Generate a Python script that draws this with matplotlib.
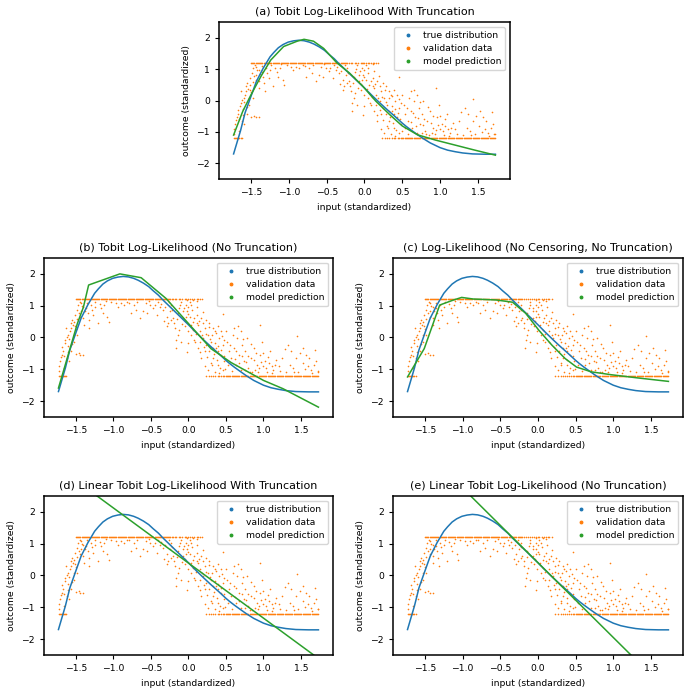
import numpy as np
import matplotlib
matplotlib.use("Agg")
import matplotlib.pyplot as plt
from matplotlib.lines import Line2D

# true distribution
true_x = [-1.732, -1.64, -1.58, -1.51, -1.43, -1.34, -1.25, -1.20, -1.14, -1.08, -1.01, -0.94,
          -0.87, -0.80, -0.73, -0.67, -0.60, -0.53, -0.47, -0.40, -0.34, -0.27, -0.20, -0.10,
          0.0, 0.10, 0.20, 0.30, 0.40, 0.50, 0.55, 0.61, 0.68, 0.77, 0.87, 1.0, 1.10, 1.20,
          1.30, 1.43, 1.60, 1.732]
true_y = [-1.70, -0.96, -0.39, 0.08, 0.61, 1.03, 1.39, 1.53, 1.68, 1.78, 1.86, 1.90,
          1.92, 1.905, 1.86, 1.80, 1.71, 1.60, 1.47, 1.33, 1.18, 1.02, 0.86, 0.63,
          0.40, 0.16, -0.07, -0.29, -0.50, -0.72, -0.82, -0.93, -1.05, -1.20, -1.35, -1.50, -1.58, -1.63,
          -1.67, -1.70, -1.71, -1.71]

# validation data, uncensored points
val_x = [-1.71, -1.69, -1.72, -1.67, -1.63, -1.64, -1.61, -1.60, -1.58, -1.57, -1.55, -1.53,
         -1.56, -1.59, -1.62, -1.51, -1.49, -1.47, -1.45, -1.43, -1.40, -1.39, -1.36, -1.34,
         -1.32, -1.46, -1.44, -1.40, -1.51, -1.53, -1.48, -1.30, -1.27, -1.25, -1.24, -1.43,
         -1.40, -1.66,
         -1.70, -1.68, -1.65, -1.62, -1.59, -1.57, -1.54, -1.52, -1.50, -1.48, -1.46, -1.44,
         -1.42, -1.38, -1.35, -1.33, -1.29, -1.72, -1.66, -1.61, -1.55, -1.50,
         -1.16, -1.14, -1.12, -1.08, -1.06, -1.03, -0.97, -0.90, -0.86, -0.77, -0.73, -0.64,
         -0.60, -0.55, -0.51, -0.45, -0.40, -1.21, -0.68, -0.82, -1.10, -0.53,
         -1.18, -0.94, -0.79, -0.70, -0.57, -0.47, -0.42, -0.36, -0.32, -0.31,
         -0.29, -0.27, -0.25, -0.23, -0.21, -0.18, -0.16, -0.14, -0.12, -0.10, -0.07, -0.05,
         -0.03, -0.01, -0.17, -0.10, -0.29, -0.23, -0.14, -0.07, -0.03, -0.34, -0.38, -0.01,
         -0.26, -0.22, -0.19, -0.15, -0.13, -0.11, -0.09, -0.06, -0.04, -0.02, 0.0,
         -0.02, 0.02, 0.065, 0.11, 0.0, 0.04,
         -0.02, 0.02, 0.065, 0.11, 0.13, 0.15, 0.17, 0.20, 0.22, 0.24, 0.26, 0.28, 0.30, 0.33,
         0.35, 0.37, 0.39, 0.41, 0.43, 0.46, 0.48, 0.04, 0.09, 0.13, 0.17, 0.22, 0.26, 0.11,
         0.20, 0.24, 0.28, 0.33, 0.37, 0.39, 0.43, 0.50, 0.48, 0.22, 0.15, 0.30, 0.35, 0.41,
         0.46, 0.39, 0.33, 0.065,
         0.03, 0.05, 0.07, 0.08, 0.10, 0.12, 0.14, 0.16, 0.18, 0.19, 0.21, 0.23, 0.25, 0.27,
         0.29, 0.31, 0.32, 0.34, 0.36, 0.38, 0.40, 0.42, 0.44, 0.45, 0.47, 0.49, 0.46,
         0.52, 0.54, 0.57, 0.59, 0.61, 0.63, 0.65, 0.67, 0.70, 0.72, 0.74, 0.76, 0.78, 0.80,
         0.83, 0.87, 0.91, 0.93, 0.96, 0.98, 0.61, 0.70, 1.0, 0.89, 0.76, 1.02,
         0.53, 0.56, 0.58, 0.62, 0.64, 0.66, 0.68, 0.71, 0.73, 0.77, 0.79, 0.82, 0.84, 0.88,
         0.90, 0.94, 0.97,
         1.04, 1.07, 1.11, 1.13, 1.15, 1.09, 1.35, 1.37, 1.39, 1.43, 1.46, 1.52, 1.57, 1.59,
         1.63, 1.67, 1.70, 1.72, 0.95, 1.33, 1.53, 1.25, 1.20, 1.05, 0.85, 1.0, 1.55, 1.30,
         1.06, 1.12, 1.17, 1.22, 1.28, 1.41, 1.48, 1.61, 1.65, 1.69, 1.73, 1.44]
val_y = [-0.75, -0.54, -0.91, -0.44, 0.29, -0.07, -0.28, 0.08, 0.19, 0.45, 0.55, -0.13,
         -0.44, -0.75, -0.65, 0.71, 0.87, 1.03, 1.13, 0.82, 0.61, 0.40, 0.92, 0.76,
         0.29, -0.49, -0.54, -0.54, 0.35, 0.08, 0.08, 1.03, 0.71, 0.97, 1.13, 1.08,
         0.97, -0.96,
         -0.62, -0.30, -0.18, 0.02, -0.05, 0.31, 0.38, 0.50, 0.27, 0.58, 0.77, 0.66,
         0.98, 0.83, 1.10, 0.55, 0.88, -1.05, -0.58, -0.47, -0.22, -0.52,
         0.92, 0.76, 1.03, 0.66, 0.50, 1.13, 1.08, 1.08, 1.03, 0.76, 1.03, 0.61,
         0.82, 0.76, 1.03, 1.03, 1.13, 0.45, 1.13, 1.13, 1.15, 1.15,
         1.05, 0.96, 1.10, 0.87, 1.08, 0.93, 0.72, 1.06, 0.52, 0.95,
         0.66, 0.45, 0.82, 1.03, 0.61, 0.29, -0.07, 0.76, 0.92, 1.13, 0.61, 0.35,
         1.03, -0.18, -0.34, -0.13, 0.35, 0.55, 0.08, 0.82, 0.66, 0.87, 0.97, 0.19,
         1.12, 0.88, 0.47, 0.57, 0.23, 1.01, 0.41, 0.93, 0.52, -0.47, 0.74,
         1.18, 1.13, 1.18, 1.15, 0.97, 1.03,
         0.82, 0.66, 0.50, 0.71, 0.40, 0.19, 0.61, -0.02, 0.29, -0.23, 0.08, -0.44, -0.13, -0.65,
         0.19, -0.34, -0.86, -0.02, -0.54, -0.23, -0.75, 0.08, -0.13, -0.34, -0.65, -0.91, -1.02, 0.45,
         0.45, 0.55, 0.45, 0.29, 0.14, 0.35, 0.19, 0.19, -0.07, -0.44, -0.13, -0.81, -1.07, -1.12,
         -1.02, -0.44, -0.34, 0.24,
         0.38, 0.88, -0.08, 0.62, 0.12, 0.95, 0.52, -0.45, 0.08, 0.79, -0.31, 0.12, -0.62, 0.33,
         -0.05, -0.88, 0.07, -0.52, -0.18, -0.70, -0.27, -0.95, -0.40, 0.05, -0.58, -0.98, 0.74,
         -0.13, -0.44, -0.65, 0.08, -0.34, -0.86, -0.02, -0.54, -1.02, -0.23, -0.75, -0.44, -0.02, -0.96,
         -0.65, -0.34, -0.86, -1.07, -0.54, -0.13, 0.29, 0.19, -0.91, -1.02, -1.02, -0.75,
         -0.87, -0.25, -1.05, -0.68, -0.41, 0.35, -0.80, -0.57, -0.05, -0.78, -0.58, -1.08, -0.22, -0.70,
         -0.48, -0.95, -0.78,
         -0.96, -0.81, -0.91, -1.02, -0.86, -0.44, -0.86, -0.44, -0.96, -0.65, -1.07, -0.81, -0.54, -0.91,
         -1.02, -0.86, -0.75, -1.07, 0.40, -0.23, -0.33, -0.65, -0.90, -1.10, -1.10, -0.50, -1.0, -1.10,
         -0.60, -1.12, -0.72, -1.05, -0.35, -1.10, -0.48, -0.65, -1.12, -0.38, -1.05, 0.05]

# validation data, censored at the upper / lower limit
upper_cens = 1.2
lower_cens = -1.2
upper_x = [-1.500, -1.486, -1.471, -1.457, -1.440, -1.425, -1.411, -1.396, -1.380, -1.366,
           -1.350, -1.335, -1.321, -1.305, -1.290, -1.276, -1.260, -1.245, -1.231, -1.215,
           -1.200, -1.186, -1.170, -1.155, -1.141, -1.125, -1.110, -1.096, -1.080, -1.065,
           -1.051, -1.035, -1.020, -1.006, -0.990, -0.975, -0.961, -0.945, -0.930, -0.916,
           -0.900, -0.885, -0.871, -0.855, -0.840, -0.826, -0.810, -0.795, -0.781, -0.765,
           -0.750, -0.736, -0.720, -0.705, -0.691, -0.675, -0.660, -0.646, -0.630, -0.615,
           -0.601, -0.585, -0.570, -0.556, -0.540, -0.525, -0.511, -0.495, -0.480, -0.466,
           -0.450, -0.435, -0.421, -0.405, -0.390, -0.376, -0.360, -0.345, -0.331, -0.315,
           -0.300, -0.286, -0.270, -0.255, -0.241, -0.225, -0.210,
           -0.18, -0.16, -0.13, -0.11, -0.08, -0.05, -0.03, 0.0, 0.02, 0.05, 0.08, 0.11,
           0.13, 0.15, 0.18]
lower_x = [-1.730, -1.715, -1.700, -1.685, -1.670, -1.655, -1.640, -1.625,
           0.23, 0.27, 0.30, 0.33, 0.36, 0.39, 0.41, 0.44, 0.46, 0.48, 0.50,
           0.515, 0.530, 0.545, 0.560, 0.575, 0.590, 0.605, 0.620, 0.635, 0.650, 0.665, 0.680,
           0.695, 0.710, 0.725, 0.740, 0.755, 0.770, 0.785, 0.800, 0.815, 0.830, 0.845, 0.860,
           0.875, 0.890, 0.905, 0.920, 0.935, 0.950, 0.965, 0.980, 0.995, 1.010, 1.025, 1.040,
           1.055, 1.070, 1.085, 1.100, 1.115, 1.130, 1.145, 1.160, 1.175, 1.190, 1.205, 1.220,
           1.235, 1.250, 1.265, 1.280, 1.295, 1.310, 1.325, 1.340, 1.355, 1.370, 1.385, 1.400,
           1.415, 1.430, 1.445, 1.460, 1.475, 1.490, 1.505, 1.520, 1.535, 1.550, 1.565, 1.580,
           1.595, 1.610, 1.625, 1.640, 1.655, 1.670, 1.685, 1.700, 1.715, 1.730]

# model predictions
pred_a_x = [-1.732, -1.61, -1.50, -1.37, -1.24, -1.07, -0.89, -0.80, -0.675, -0.54, -0.37,
            -0.196, -0.02, 0.15, 0.33, 0.50, 0.70, 0.94, 1.20, 1.46, 1.732]
pred_a_y = [-1.10, -0.34, 0.19, 0.77, 1.29, 1.72, 1.89, 1.95, 1.89, 1.66, 1.21,
            0.87, 0.45, -0.02, -0.44, -0.81, -1.09, -1.26, -1.42, -1.58, -1.74]
pred_b_x = [-1.732, -1.48, -1.40, -1.33, -0.914, -0.63, -0.30, 0.0, 0.30, 0.57, 1.0, 1.26, 1.732]
pred_b_y = [-1.59, 0.44, 0.95, 1.65, 2.0, 1.88, 1.23, 0.44, -0.35, -0.79, -1.35, -1.61, -2.19]
pred_c_x = [-1.732, -1.51, -1.305, -1.12, -1.013, -0.86, -0.556, -0.338, -0.163, 0.011,
            0.185, 0.36, 0.512, 0.708, 0.97, 1.32, 1.732]
pred_c_y = [-1.24, -0.35, 1.02, 1.18, 1.26, 1.21, 1.18, 1.11, 0.76, 0.23,
            -0.24, -0.66, -0.93, -1.08, -1.17, -1.27, -1.38]
pred_d_x = [-1.732, 1.732]
pred_d_y = [3.39, -2.61]
pred_e_x = [-1.732, 1.732]
pred_e_y = [4.47, -3.67]

titles = ["(a) Tobit Log-Likelihood With Truncation",
          "(b) Tobit Log-Likelihood (No Truncation)",
          "(c) Log-Likelihood (No Censoring, No Truncation)",
          "(d) Linear Tobit Log-Likelihood With Truncation",
          "(e) Linear Tobit Log-Likelihood (No Truncation)"]
preds = [(pred_a_x, pred_a_y), (pred_b_x, pred_b_y), (pred_c_x, pred_c_y),
         (pred_d_x, pred_d_y), (pred_e_x, pred_e_y)]

# axes boxes [left, bottom, width, height] in figure fraction
boxes = [[0.3197, 0.7424, 0.4248, 0.2259],
         [0.0642, 0.4000, 0.4218, 0.2288],
         [0.5737, 0.4000, 0.4233, 0.2288],
         [0.0642, 0.0576, 0.4218, 0.2288],
         [0.5737, 0.0576, 0.4233, 0.2288]]

sc_x = val_x + upper_x + lower_x
sc_y = val_y + [upper_cens] * len(upper_x) + [lower_cens] * len(lower_x)

fs = 6.7
fig = plt.figure(figsize=(6.85, 6.95), dpi=100)
for i in range(5):
    ax = fig.add_axes(boxes[i])
    ax.plot(true_x, true_y, color="tab:blue", lw=1.1)
    ax.scatter(sc_x, sc_y, s=1.4, color="tab:orange", linewidths=0)
    ax.plot(preds[i][0], preds[i][1], color="tab:green", lw=1.1)
    ax.set_xlim(-1.925, 1.925)
    ax.set_ylim(-2.5, 2.5)
    ax.set_xticks([-1.5, -1.0, -0.5, 0.0, 0.5, 1.0, 1.5])
    ax.set_yticks([-2, -1, 0, 1, 2])
    ax.tick_params(labelsize=fs, width=0.8, length=3)
    for sp in ax.spines.values():
        sp.set_linewidth(1.1)
    ax.set_title(titles[i], fontsize=8, pad=5)
    ax.set_xlabel("input (standardized)", fontsize=fs)
    ax.set_ylabel("outcome (standardized)", fontsize=fs)
    handles = [Line2D([], [], ls="", marker="o", ms=1.8, color=c)
               for c in ["tab:blue", "tab:orange", "tab:green"]]
    ax.legend(handles, ["true distribution", "validation data", "model prediction"],
              loc="upper right", fontsize=fs, handletextpad=0.6, borderpad=0.45,
              labelspacing=0.45)

fig.savefig("out.png", dpi=100)
